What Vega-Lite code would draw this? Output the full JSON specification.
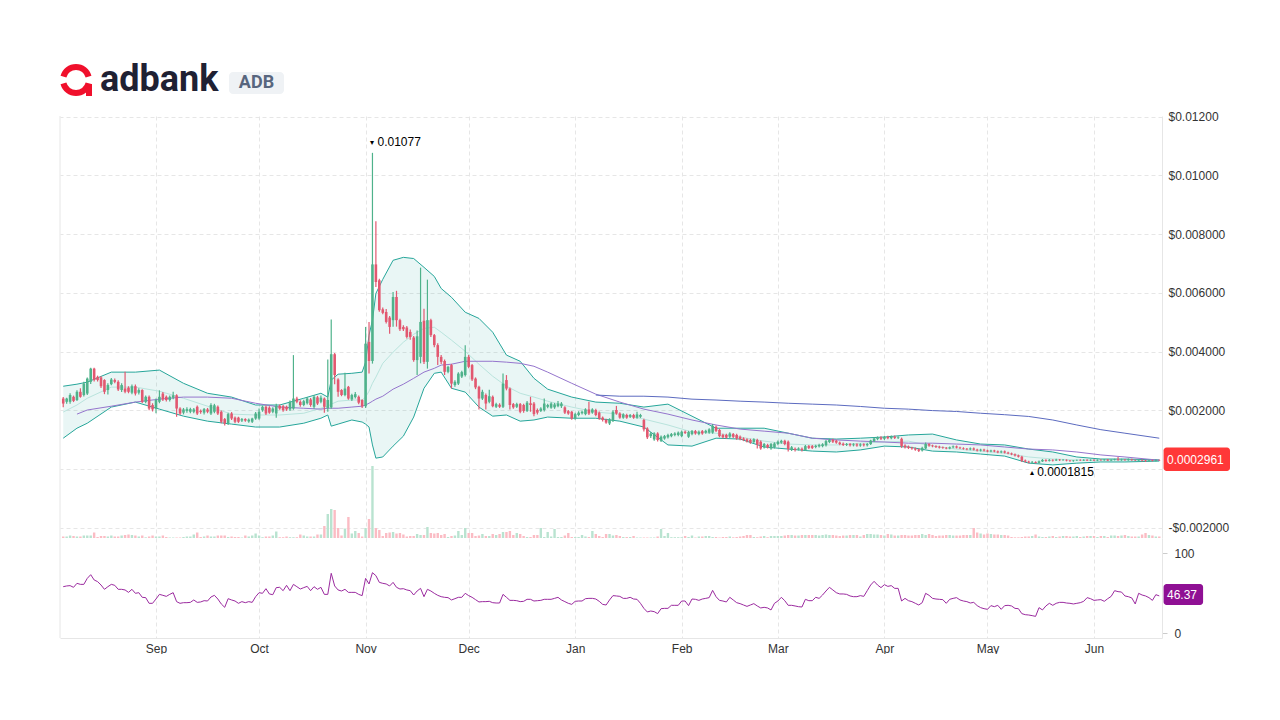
{"$schema":"https://vega.github.io/schema/vega-lite/v6.json","padding":{"left":59,"top":60,"right":0,"bottom":0},"background":"white","bounds":"flush","spacing":0,
"config":{"view":{"stroke":null},"font":"Liberation Sans","axis":{"title":null,"gridColor":"#e6e6e6","gridDash":[4,3],"labelFontSize":12,"labelColor":"#333333","labelFont":"Liberation Sans"}},
"datasets":{
"candles":[
{"t":"2018-08-05","o":0.0024,"c":0.00223,"h":0.00245,"l":0.0021,"v":1.5,"r":57.9},
{"t":"2018-08-06","o":0.00229,"c":0.0024,"h":0.00243,"l":0.00222,"v":1.5,"r":58.8},
{"t":"2018-08-07","o":0.00229,"c":0.00252,"h":0.00258,"l":0.00222,"v":2.5,"r":59.2},
{"t":"2018-08-08","o":0.00246,"c":0.00232,"h":0.0025,"l":0.00228,"v":2,"r":57.1},
{"t":"2018-08-09","o":0.00235,"c":0.00263,"h":0.00268,"l":0.00232,"v":1.5,"r":62.1},
{"t":"2018-08-10","o":0.00263,"c":0.00246,"h":0.00275,"l":0.00243,"v":1.5,"r":60.8},
{"t":"2018-08-11","o":0.00252,"c":0.00291,"h":0.00297,"l":0.00247,"v":2.5,"r":60.8},
{"t":"2018-08-12","o":0.00257,"c":0.00308,"h":0.00312,"l":0.00252,"v":2.5,"r":68.3},
{"t":"2018-08-13","o":0.00297,"c":0.00342,"h":0.00345,"l":0.0029,"v":2.5,"r":72.9},
{"t":"2018-08-14","o":0.00342,"c":0.00303,"h":0.00345,"l":0.00298,"v":5.5,"r":66.3},
{"t":"2018-08-15","o":0.00314,"c":0.00303,"h":0.00318,"l":0.00298,"v":1,"r":64.2},
{"t":"2018-08-16","o":0.00312,"c":0.00282,"h":0.00316,"l":0.00276,"v":2,"r":60},
{"t":"2018-08-17","o":0.00303,"c":0.00263,"h":0.00306,"l":0.00255,"v":2,"r":54.6},
{"t":"2018-08-18","o":0.00269,"c":0.00286,"h":0.00292,"l":0.00254,"v":1.5,"r":57.9},
{"t":"2018-08-19","o":0.00289,"c":0.00305,"h":0.0031,"l":0.00285,"v":2.5,"r":60.8},
{"t":"2018-08-20","o":0.00303,"c":0.00297,"h":0.00308,"l":0.00292,"v":1.5,"r":59.6},
{"t":"2018-08-21","o":0.00297,"c":0.00271,"h":0.00302,"l":0.00266,"v":1.5,"r":54.6},
{"t":"2018-08-22","o":0.00269,"c":0.00286,"h":0.00292,"l":0.00262,"v":2.5,"r":54.6},
{"t":"2018-08-23","o":0.00274,"c":0.00263,"h":0.00331,"l":0.00258,"v":3,"r":53.8},
{"t":"2018-08-24","o":0.00277,"c":0.00263,"h":0.00282,"l":0.00258,"v":3.5,"r":50.8},
{"t":"2018-08-25","o":0.0026,"c":0.00282,"h":0.00288,"l":0.00255,"v":3,"r":54.6},
{"t":"2018-08-26","o":0.00282,"c":0.00257,"h":0.00288,"l":0.0025,"v":2.5,"r":49.6},
{"t":"2018-08-27","o":0.0026,"c":0.00269,"h":0.00275,"l":0.00254,"v":1.5,"r":50.4},
{"t":"2018-08-28","o":0.00269,"c":0.00229,"h":0.00272,"l":0.00225,"v":2.5,"r":44.6},
{"t":"2018-08-29","o":0.00229,"c":0.00246,"h":0.0025,"l":0.00224,"v":0.7,"r":44.2},
{"t":"2018-08-30","o":0.00246,"c":0.00206,"h":0.0025,"l":0.002,"v":1.5,"r":37.1},
{"t":"2018-08-31","o":0.00218,"c":0.00203,"h":0.00224,"l":0.00196,"v":2.5,"r":37.1},
{"t":"2018-09-01","o":0.00206,"c":0.00235,"h":0.0024,"l":0.0019,"v":1.5,"r":42.5},
{"t":"2018-09-02","o":0.00229,"c":0.00246,"h":0.00268,"l":0.00224,"v":1.5,"r":48.3},
{"t":"2018-09-03","o":0.00257,"c":0.00237,"h":0.00262,"l":0.00232,"v":2.5,"r":47.1},
{"t":"2018-09-04","o":0.00246,"c":0.00235,"h":0.0025,"l":0.0023,"v":1,"r":45.8},
{"t":"2018-09-05","o":0.00235,"c":0.00246,"h":0.0025,"l":0.0023,"v":0.5,"r":48.3},
{"t":"2018-09-06","o":0.00243,"c":0.00251,"h":0.00263,"l":0.00238,"v":0.5,"r":50.4},
{"t":"2018-09-07","o":0.00251,"c":0.00206,"h":0.00255,"l":0.00178,"v":0.5,"r":39.2},
{"t":"2018-09-08","o":0.00206,"c":0.00189,"h":0.0021,"l":0.00184,"v":0.5,"r":37.1},
{"t":"2018-09-09","o":0.00192,"c":0.00203,"h":0.00208,"l":0.00186,"v":1,"r":37.9},
{"t":"2018-09-10","o":0.00198,"c":0.00204,"h":0.0021,"l":0.00192,"v":1.5,"r":37.9},
{"t":"2018-09-11","o":0.00195,"c":0.00204,"h":0.00209,"l":0.0019,"v":1.5,"r":38.3},
{"t":"2018-09-12","o":0.00195,"c":0.00203,"h":0.00208,"l":0.0019,"v":3.5,"r":41.3},
{"t":"2018-09-13","o":0.00212,"c":0.00189,"h":0.00216,"l":0.00184,"v":5.5,"r":38.3},
{"t":"2018-09-14","o":0.00198,"c":0.00194,"h":0.00203,"l":0.00188,"v":1,"r":38.8},
{"t":"2018-09-15","o":0.00192,"c":0.00204,"h":0.00208,"l":0.00186,"v":1.5,"r":40.4},
{"t":"2018-09-16","o":0.00203,"c":0.00195,"h":0.00208,"l":0.0019,"v":2.5,"r":40},
{"t":"2018-09-17","o":0.00189,"c":0.00218,"h":0.00224,"l":0.00184,"v":1.5,"r":45},
{"t":"2018-09-18","o":0.00195,"c":0.00217,"h":0.00222,"l":0.0019,"v":1.5,"r":47.1},
{"t":"2018-09-19","o":0.00212,"c":0.00189,"h":0.00216,"l":0.00184,"v":2.5,"r":42.5},
{"t":"2018-09-20","o":0.00195,"c":0.00161,"h":0.00199,"l":0.00156,"v":2.5,"r":36.3},
{"t":"2018-09-21","o":0.0017,"c":0.00155,"h":0.00174,"l":0.00148,"v":2.5,"r":32.1},
{"t":"2018-09-22","o":0.00155,"c":0.00187,"h":0.00192,"l":0.0015,"v":1,"r":42.9},
{"t":"2018-09-23","o":0.00189,"c":0.00172,"h":0.00194,"l":0.00167,"v":1.5,"r":41.3},
{"t":"2018-09-24","o":0.00175,"c":0.00161,"h":0.00179,"l":0.00156,"v":1,"r":40},
{"t":"2018-09-25","o":0.00175,"c":0.00161,"h":0.00178,"l":0.00157,"v":1,"r":37.1},
{"t":"2018-09-26","o":0.00165,"c":0.0017,"h":0.00174,"l":0.0016,"v":0.5,"r":39.2},
{"t":"2018-09-27","o":0.0017,"c":0.00165,"h":0.00173,"l":0.00161,"v":2.5,"r":37.9},
{"t":"2018-09-28","o":0.00162,"c":0.00168,"h":0.00172,"l":0.00158,"v":1.5,"r":39.2},
{"t":"2018-09-29","o":0.00161,"c":0.00172,"h":0.00175,"l":0.00157,"v":2.5,"r":38.3},
{"t":"2018-09-30","o":0.00172,"c":0.00189,"h":0.00194,"l":0.00168,"v":4.5,"r":45.4},
{"t":"2018-10-01","o":0.00172,"c":0.00195,"h":0.00206,"l":0.00168,"v":2.5,"r":50.4},
{"t":"2018-10-02","o":0.002,"c":0.00212,"h":0.00216,"l":0.00195,"v":0.8,"r":49.6},
{"t":"2018-10-03","o":0.00212,"c":0.00189,"h":0.00216,"l":0.00184,"v":1.5,"r":55.4},
{"t":"2018-10-04","o":0.00209,"c":0.00192,"h":0.00214,"l":0.00188,"v":1.5,"r":48.8},
{"t":"2018-10-05","o":0.00195,"c":0.00206,"h":0.0021,"l":0.0019,"v":2.5,"r":47.9},
{"t":"2018-10-06","o":0.00189,"c":0.00215,"h":0.00222,"l":0.00175,"v":6.5,"r":56.7},
{"t":"2018-10-07","o":0.00215,"c":0.00206,"h":0.0022,"l":0.00202,"v":0.8,"r":57.1},
{"t":"2018-10-08","o":0.00214,"c":0.002,"h":0.00218,"l":0.00195,"v":0.8,"r":52.9},
{"t":"2018-10-09","o":0.00212,"c":0.00203,"h":0.00216,"l":0.00198,"v":1.5,"r":59.6},
{"t":"2018-10-10","o":0.00203,"c":0.00229,"h":0.00233,"l":0.00198,"v":0.8,"r":52.9},
{"t":"2018-10-11","o":0.00206,"c":0.0024,"h":0.00388,"l":0.00202,"v":0.8,"r":60.8},
{"t":"2018-10-12","o":0.0024,"c":0.00229,"h":0.00246,"l":0.00224,"v":0.8,"r":57.9},
{"t":"2018-10-13","o":0.00229,"c":0.00218,"h":0.00234,"l":0.00212,"v":3.5,"r":55},
{"t":"2018-10-14","o":0.00218,"c":0.00231,"h":0.00236,"l":0.00214,"v":2.5,"r":56.7},
{"t":"2018-10-15","o":0.00224,"c":0.0024,"h":0.00245,"l":0.0022,"v":1.5,"r":58.3},
{"t":"2018-10-16","o":0.00237,"c":0.00218,"h":0.00242,"l":0.00212,"v":1.5,"r":52.9},
{"t":"2018-10-17","o":0.00212,"c":0.00246,"h":0.00252,"l":0.00205,"v":1.5,"r":57.9},
{"t":"2018-10-18","o":0.00244,"c":0.00223,"h":0.00249,"l":0.00218,"v":3.5,"r":54.6},
{"t":"2018-10-19","o":0.00229,"c":0.00243,"h":0.0025,"l":0.00224,"v":3.5,"r":57.1},
{"t":"2018-10-20","o":0.0024,"c":0.00212,"h":0.00244,"l":0.00192,"v":12,"r":48.3},
{"t":"2018-10-21","o":0.00207,"c":0.00235,"h":0.00373,"l":0.00195,"v":24,"r":48.3},
{"t":"2018-10-22","o":0.0021,"c":0.00391,"h":0.00509,"l":0.00205,"v":29,"r":74.6},
{"t":"2018-10-23","o":0.00391,"c":0.0032,"h":0.00395,"l":0.00289,"v":28,"r":58.8},
{"t":"2018-10-24","o":0.00305,"c":0.00263,"h":0.00309,"l":0.00246,"v":10,"r":53.8},
{"t":"2018-10-25","o":0.00269,"c":0.00252,"h":0.00272,"l":0.00248,"v":2.5,"r":52.5},
{"t":"2018-10-26","o":0.00252,"c":0.00274,"h":0.00328,"l":0.00248,"v":9.5,"r":54.6},
{"t":"2018-10-27","o":0.0028,"c":0.0024,"h":0.00283,"l":0.00236,"v":21,"r":50.8},
{"t":"2018-10-28","o":0.00237,"c":0.00252,"h":0.00256,"l":0.00232,"v":4.5,"r":50.8},
{"t":"2018-10-29","o":0.00245,"c":0.00255,"h":0.00262,"l":0.0024,"v":7,"r":50.8},
{"t":"2018-10-30","o":0.00246,"c":0.00226,"h":0.0025,"l":0.00221,"v":5,"r":48.3},
{"t":"2018-10-31","o":0.00235,"c":0.00214,"h":0.00238,"l":0.00208,"v":1.5,"r":46.7},
{"t":"2018-11-01","o":0.00214,"c":0.00427,"h":0.00484,"l":0.00208,"v":10,"r":68.3},
{"t":"2018-11-02","o":0.00433,"c":0.00368,"h":0.00501,"l":0.00325,"v":19,"r":61.3},
{"t":"2018-11-03","o":0.00368,"c":0.00697,"h":0.01077,"l":0.00359,"v":72,"r":75.4},
{"t":"2018-11-04","o":0.00697,"c":0.00637,"h":0.00844,"l":0.0062,"v":10,"r":71.7},
{"t":"2018-11-05","o":0.00643,"c":0.00541,"h":0.00648,"l":0.00536,"v":8,"r":63.3},
{"t":"2018-11-06","o":0.00544,"c":0.00532,"h":0.0055,"l":0.00527,"v":2,"r":62.1},
{"t":"2018-11-07","o":0.00535,"c":0.00501,"h":0.00545,"l":0.00496,"v":5,"r":61.3},
{"t":"2018-11-08","o":0.00516,"c":0.00484,"h":0.00521,"l":0.00461,"v":5.5,"r":58.8},
{"t":"2018-11-09","o":0.00507,"c":0.00586,"h":0.00603,"l":0.00485,"v":6,"r":63.3},
{"t":"2018-11-10","o":0.00586,"c":0.00507,"h":0.00607,"l":0.00485,"v":4.5,"r":57.1},
{"t":"2018-11-11","o":0.00507,"c":0.00476,"h":0.00512,"l":0.0047,"v":5,"r":55},
{"t":"2018-11-12","o":0.00484,"c":0.00476,"h":0.0049,"l":0.0047,"v":3.5,"r":55.4},
{"t":"2018-11-13","o":0.00482,"c":0.0045,"h":0.00487,"l":0.00445,"v":1.5,"r":53.8},
{"t":"2018-11-14","o":0.00467,"c":0.0045,"h":0.00475,"l":0.0044,"v":2,"r":52.9},
{"t":"2018-11-15","o":0.00448,"c":0.00371,"h":0.00453,"l":0.00365,"v":2,"r":47.5},
{"t":"2018-11-16","o":0.00371,"c":0.00452,"h":0.00472,"l":0.0032,"v":4,"r":52.5},
{"t":"2018-11-17","o":0.00382,"c":0.00501,"h":0.00686,"l":0.0036,"v":3,"r":55.8},
{"t":"2018-11-18","o":0.00505,"c":0.00365,"h":0.00546,"l":0.00358,"v":3,"r":45.4},
{"t":"2018-11-19","o":0.00365,"c":0.00507,"h":0.00645,"l":0.00342,"v":11,"r":54.6},
{"t":"2018-11-20","o":0.00507,"c":0.00456,"h":0.00512,"l":0.0045,"v":5,"r":52.5},
{"t":"2018-11-21","o":0.00456,"c":0.00422,"h":0.0046,"l":0.00415,"v":4.5,"r":49.6},
{"t":"2018-11-22","o":0.00422,"c":0.00382,"h":0.00428,"l":0.00354,"v":5,"r":47.1},
{"t":"2018-11-23","o":0.00382,"c":0.00365,"h":0.00388,"l":0.00358,"v":3,"r":45.4},
{"t":"2018-11-24","o":0.00368,"c":0.00331,"h":0.00373,"l":0.0032,"v":4,"r":44.6},
{"t":"2018-11-25","o":0.00331,"c":0.00348,"h":0.00352,"l":0.00326,"v":1,"r":44.2},
{"t":"2018-11-26","o":0.00354,"c":0.00291,"h":0.00358,"l":0.00274,"v":2,"r":41.3},
{"t":"2018-11-27","o":0.00286,"c":0.00297,"h":0.00302,"l":0.0028,"v":2.5,"r":42.9},
{"t":"2018-11-28","o":0.00291,"c":0.00325,"h":0.0033,"l":0.00286,"v":7,"r":44.6},
{"t":"2018-11-29","o":0.00315,"c":0.0033,"h":0.00335,"l":0.0031,"v":3,"r":44.6},
{"t":"2018-11-30","o":0.0032,"c":0.00382,"h":0.00422,"l":0.00315,"v":10,"r":49.6},
{"t":"2018-12-01","o":0.00382,"c":0.00348,"h":0.00388,"l":0.00343,"v":5,"r":46.7},
{"t":"2018-12-02","o":0.00354,"c":0.00305,"h":0.00358,"l":0.003,"v":5,"r":44.6},
{"t":"2018-12-03","o":0.00308,"c":0.00278,"h":0.00312,"l":0.00272,"v":2,"r":41.7},
{"t":"2018-12-04","o":0.0028,"c":0.0024,"h":0.00284,"l":0.00203,"v":2.5,"r":38.8},
{"t":"2018-12-05","o":0.0024,"c":0.00263,"h":0.0027,"l":0.00235,"v":4,"r":39.2},
{"t":"2018-12-06","o":0.00252,"c":0.00223,"h":0.00257,"l":0.00203,"v":2,"r":39.2},
{"t":"2018-12-07","o":0.00229,"c":0.00248,"h":0.0027,"l":0.00224,"v":2,"r":39.6},
{"t":"2018-12-08","o":0.00246,"c":0.00214,"h":0.0025,"l":0.0021,"v":4,"r":37.9},
{"t":"2018-12-09","o":0.00212,"c":0.00221,"h":0.00226,"l":0.00208,"v":3,"r":37.5},
{"t":"2018-12-10","o":0.00219,"c":0.00212,"h":0.00224,"l":0.00208,"v":4,"r":37.5},
{"t":"2018-12-11","o":0.00212,"c":0.00291,"h":0.00325,"l":0.00208,"v":6,"r":48.3},
{"t":"2018-12-12","o":0.00303,"c":0.00274,"h":0.0032,"l":0.00268,"v":6,"r":44.6},
{"t":"2018-12-13","o":0.00274,"c":0.00218,"h":0.00278,"l":0.00203,"v":7,"r":40.8},
{"t":"2018-12-14","o":0.00221,"c":0.0021,"h":0.00225,"l":0.00205,"v":3,"r":40.8},
{"t":"2018-12-15","o":0.00212,"c":0.00221,"h":0.00226,"l":0.00208,"v":5,"r":40.4},
{"t":"2018-12-16","o":0.00221,"c":0.00195,"h":0.00225,"l":0.0019,"v":4,"r":39.2},
{"t":"2018-12-17","o":0.00218,"c":0.00198,"h":0.00222,"l":0.00192,"v":2,"r":39.6},
{"t":"2018-12-18","o":0.00198,"c":0.00226,"h":0.00232,"l":0.00194,"v":1,"r":42.1},
{"t":"2018-12-19","o":0.00224,"c":0.00218,"h":0.00246,"l":0.00195,"v":1,"r":42.1},
{"t":"2018-12-20","o":0.00223,"c":0.00187,"h":0.00228,"l":0.0018,"v":3,"r":40},
{"t":"2018-12-21","o":0.00201,"c":0.00192,"h":0.00206,"l":0.00186,"v":3,"r":40.4},
{"t":"2018-12-22","o":0.00198,"c":0.00206,"h":0.0021,"l":0.00194,"v":10,"r":40.8},
{"t":"2018-12-23","o":0.00201,"c":0.00223,"h":0.0024,"l":0.00196,"v":1,"r":42.1},
{"t":"2018-12-24","o":0.00212,"c":0.00218,"h":0.00222,"l":0.00207,"v":6,"r":42.1},
{"t":"2018-12-25","o":0.00209,"c":0.00223,"h":0.00227,"l":0.00205,"v":1.5,"r":42.1},
{"t":"2018-12-26","o":0.0021,"c":0.0022,"h":0.00225,"l":0.00205,"v":9,"r":43.3},
{"t":"2018-12-27","o":0.00214,"c":0.00223,"h":0.00232,"l":0.0021,"v":1,"r":44.6},
{"t":"2018-12-28","o":0.00214,"c":0.00223,"h":0.00228,"l":0.00208,"v":1,"r":41.3},
{"t":"2018-12-29","o":0.0021,"c":0.00192,"h":0.00214,"l":0.00187,"v":2.5,"r":39.2},
{"t":"2018-12-30","o":0.00197,"c":0.00189,"h":0.00201,"l":0.00185,"v":5,"r":37.1},
{"t":"2018-12-31","o":0.00195,"c":0.00172,"h":0.00198,"l":0.00168,"v":1,"r":35.8},
{"t":"2019-01-01","o":0.00172,"c":0.00187,"h":0.00192,"l":0.00168,"v":1,"r":39.6},
{"t":"2019-01-02","o":0.00184,"c":0.00192,"h":0.00197,"l":0.0018,"v":1,"r":40},
{"t":"2019-01-03","o":0.0019,"c":0.00195,"h":0.00199,"l":0.00186,"v":3,"r":40},
{"t":"2019-01-04","o":0.00187,"c":0.00203,"h":0.00207,"l":0.00183,"v":1.5,"r":42.9},
{"t":"2019-01-05","o":0.00203,"c":0.00189,"h":0.00229,"l":0.00184,"v":1,"r":43.3},
{"t":"2019-01-06","o":0.00192,"c":0.00203,"h":0.00207,"l":0.00188,"v":7,"r":43.3},
{"t":"2019-01-07","o":0.00201,"c":0.00184,"h":0.00205,"l":0.0018,"v":4,"r":42.5},
{"t":"2019-01-08","o":0.00192,"c":0.00172,"h":0.00196,"l":0.00168,"v":2,"r":39.6},
{"t":"2019-01-09","o":0.00175,"c":0.00167,"h":0.00179,"l":0.00162,"v":1,"r":35.8},
{"t":"2019-01-10","o":0.00167,"c":0.00158,"h":0.00171,"l":0.00154,"v":4,"r":35},
{"t":"2019-01-11","o":0.00155,"c":0.00169,"h":0.00173,"l":0.0015,"v":4,"r":41.3},
{"t":"2019-01-12","o":0.00164,"c":0.00195,"h":0.002,"l":0.0016,"v":2.5,"r":46.7},
{"t":"2019-01-13","o":0.00201,"c":0.00189,"h":0.00215,"l":0.00185,"v":3,"r":46.3},
{"t":"2019-01-14","o":0.00189,"c":0.00175,"h":0.00193,"l":0.00171,"v":2,"r":45.8},
{"t":"2019-01-15","o":0.00175,"c":0.00186,"h":0.0019,"l":0.00171,"v":1,"r":43.3},
{"t":"2019-01-16","o":0.00184,"c":0.00175,"h":0.00188,"l":0.00171,"v":1,"r":43.3},
{"t":"2019-01-17","o":0.00178,"c":0.00184,"h":0.00187,"l":0.00174,"v":1,"r":44.6},
{"t":"2019-01-18","o":0.00184,"c":0.00175,"h":0.00188,"l":0.00171,"v":2,"r":42.5},
{"t":"2019-01-19","o":0.00175,"c":0.00186,"h":0.00195,"l":0.00171,"v":0.5,"r":42.1},
{"t":"2019-01-20","o":0.00178,"c":0.00184,"h":0.00188,"l":0.00174,"v":0.5,"r":37.1},
{"t":"2019-01-21","o":0.00167,"c":0.00135,"h":0.00171,"l":0.00128,"v":0.5,"r":30.8},
{"t":"2019-01-22","o":0.00138,"c":0.00108,"h":0.00142,"l":0.00102,"v":0.5,"r":26.3},
{"t":"2019-01-23","o":0.00112,"c":0.00121,"h":0.00126,"l":0.00106,"v":0.5,"r":27.5},
{"t":"2019-01-24","o":0.00101,"c":0.00121,"h":0.00125,"l":0.00096,"v":0.5,"r":26.7},
{"t":"2019-01-25","o":0.00121,"c":0.00099,"h":0.00125,"l":0.00094,"v":1.5,"r":24.2},
{"t":"2019-01-26","o":0.00096,"c":0.0011,"h":0.00114,"l":0.00092,"v":9,"r":30.4},
{"t":"2019-01-27","o":0.00104,"c":0.00112,"h":0.00116,"l":0.001,"v":2,"r":30.8},
{"t":"2019-01-28","o":0.00108,"c":0.00116,"h":0.0012,"l":0.00104,"v":5,"r":30.8},
{"t":"2019-01-29","o":0.00112,"c":0.00119,"h":0.00123,"l":0.00108,"v":0.8,"r":34.6},
{"t":"2019-01-30","o":0.00116,"c":0.00121,"h":0.00125,"l":0.00112,"v":0.8,"r":34.6},
{"t":"2019-01-31","o":0.00116,"c":0.00124,"h":0.00128,"l":0.00112,"v":0.8,"r":34.6},
{"t":"2019-02-01","o":0.00112,"c":0.00127,"h":0.00131,"l":0.00108,"v":0.8,"r":40},
{"t":"2019-02-02","o":0.00127,"c":0.00123,"h":0.00131,"l":0.00119,"v":2,"r":40},
{"t":"2019-02-03","o":0.0011,"c":0.00126,"h":0.0013,"l":0.00106,"v":1,"r":34.2},
{"t":"2019-02-04","o":0.00119,"c":0.00129,"h":0.00133,"l":0.00115,"v":2.5,"r":42.5},
{"t":"2019-02-05","o":0.00129,"c":0.00121,"h":0.00133,"l":0.00117,"v":0.5,"r":42.1},
{"t":"2019-02-06","o":0.00119,"c":0.00127,"h":0.00131,"l":0.00115,"v":1.5,"r":40.8},
{"t":"2019-02-07","o":0.00129,"c":0.00121,"h":0.00133,"l":0.00117,"v":1.5,"r":42.5},
{"t":"2019-02-08","o":0.00124,"c":0.0013,"h":0.00134,"l":0.0012,"v":2,"r":43.3},
{"t":"2019-02-09","o":0.00124,"c":0.00135,"h":0.00139,"l":0.0012,"v":2,"r":44.2},
{"t":"2019-02-10","o":0.00124,"c":0.00147,"h":0.00153,"l":0.0012,"v":1,"r":53.3},
{"t":"2019-02-11","o":0.00144,"c":0.0013,"h":0.00148,"l":0.00126,"v":1,"r":45.4},
{"t":"2019-02-12","o":0.00133,"c":0.00112,"h":0.00137,"l":0.00108,"v":0.5,"r":40.8},
{"t":"2019-02-13","o":0.00116,"c":0.00108,"h":0.0012,"l":0.00104,"v":1,"r":40},
{"t":"2019-02-14","o":0.00116,"c":0.00107,"h":0.0012,"l":0.00103,"v":1,"r":38.8},
{"t":"2019-02-15","o":0.0011,"c":0.00121,"h":0.00125,"l":0.00106,"v":1.5,"r":44.6},
{"t":"2019-02-16","o":0.00119,"c":0.0011,"h":0.00123,"l":0.00106,"v":0.7,"r":41.3},
{"t":"2019-02-17","o":0.00116,"c":0.00104,"h":0.0012,"l":0.001,"v":1,"r":37.9},
{"t":"2019-02-18","o":0.0011,"c":0.00102,"h":0.00114,"l":0.00098,"v":1.5,"r":36.7},
{"t":"2019-02-19","o":0.00104,"c":0.00099,"h":0.00108,"l":0.00095,"v":2,"r":35},
{"t":"2019-02-20","o":0.00101,"c":0.00094,"h":0.00105,"l":0.0009,"v":3,"r":33.3},
{"t":"2019-02-21","o":0.00099,"c":0.0009,"h":0.00103,"l":0.00086,"v":3,"r":35},
{"t":"2019-02-22","o":0.00092,"c":0.00101,"h":0.00105,"l":0.00088,"v":1,"r":36.7},
{"t":"2019-02-23","o":0.00099,"c":0.00083,"h":0.00103,"l":0.0007,"v":0.8,"r":33.8},
{"t":"2019-02-24","o":0.00093,"c":0.0007,"h":0.00097,"l":0.00066,"v":1.5,"r":31.3},
{"t":"2019-02-25","o":0.00074,"c":0.00085,"h":0.00089,"l":0.0007,"v":2,"r":32.1},
{"t":"2019-02-26","o":0.00082,"c":0.00074,"h":0.00086,"l":0.0007,"v":0.8,"r":31.3},
{"t":"2019-02-27","o":0.0007,"c":0.00085,"h":0.00089,"l":0.00066,"v":2,"r":28.8},
{"t":"2019-02-28","o":0.00074,"c":0.00087,"h":0.00091,"l":0.0007,"v":2,"r":37.1},
{"t":"2019-03-01","o":0.00085,"c":0.00093,"h":0.00097,"l":0.00081,"v":2,"r":40},
{"t":"2019-03-02","o":0.0009,"c":0.00096,"h":0.001,"l":0.00086,"v":2,"r":44.6},
{"t":"2019-03-03","o":0.00096,"c":0.00085,"h":0.001,"l":0.00081,"v":2.5,"r":40.4},
{"t":"2019-03-04","o":0.00093,"c":0.00068,"h":0.00097,"l":0.0006,"v":3,"r":34.6},
{"t":"2019-03-05","o":0.00065,"c":0.00074,"h":0.00078,"l":0.00061,"v":3,"r":34.6},
{"t":"2019-03-06","o":0.00069,"c":0.00065,"h":0.00073,"l":0.0006,"v":2.5,"r":33.8},
{"t":"2019-03-07","o":0.00067,"c":0.0007,"h":0.00074,"l":0.00063,"v":2.5,"r":32.9},
{"t":"2019-03-08","o":0.00069,"c":0.00065,"h":0.00073,"l":0.0006,"v":3,"r":32.5},
{"t":"2019-03-09","o":0.00065,"c":0.00078,"h":0.00082,"l":0.00061,"v":3,"r":42.1},
{"t":"2019-03-10","o":0.00078,"c":0.00072,"h":0.00082,"l":0.00068,"v":3,"r":40.4},
{"t":"2019-03-11","o":0.00078,"c":0.00072,"h":0.00082,"l":0.00068,"v":3,"r":40.4},
{"t":"2019-03-12","o":0.00075,"c":0.00079,"h":0.00083,"l":0.00071,"v":3,"r":44.6},
{"t":"2019-03-13","o":0.00077,"c":0.00082,"h":0.00086,"l":0.00073,"v":2.5,"r":43.3},
{"t":"2019-03-14","o":0.00078,"c":0.00084,"h":0.00088,"l":0.00074,"v":3,"r":47.5},
{"t":"2019-03-15","o":0.00081,"c":0.00095,"h":0.00099,"l":0.00077,"v":3.5,"r":52.5},
{"t":"2019-03-16","o":0.00092,"c":0.00099,"h":0.00103,"l":0.00088,"v":3,"r":57.1},
{"t":"2019-03-17","o":0.00099,"c":0.00093,"h":0.00103,"l":0.00089,"v":3,"r":53.8},
{"t":"2019-03-18","o":0.00096,"c":0.0009,"h":0.001,"l":0.00086,"v":2.5,"r":50.4},
{"t":"2019-03-19","o":0.0009,"c":0.00085,"h":0.00094,"l":0.00081,"v":2,"r":48.8},
{"t":"2019-03-20","o":0.00086,"c":0.00082,"h":0.0009,"l":0.00078,"v":2.5,"r":48.8},
{"t":"2019-03-21","o":0.00082,"c":0.00085,"h":0.00089,"l":0.00078,"v":2.5,"r":48.3},
{"t":"2019-03-22","o":0.00085,"c":0.00081,"h":0.00089,"l":0.00077,"v":3,"r":46.3},
{"t":"2019-03-23","o":0.00081,"c":0.00084,"h":0.00088,"l":0.00077,"v":3,"r":45.4},
{"t":"2019-03-24","o":0.00084,"c":0.0008,"h":0.00088,"l":0.00076,"v":3,"r":45.4},
{"t":"2019-03-25","o":0.0008,"c":0.00084,"h":0.00088,"l":0.00076,"v":1.5,"r":46.7},
{"t":"2019-03-26","o":0.00084,"c":0.00081,"h":0.00088,"l":0.00077,"v":3,"r":45.8},
{"t":"2019-03-27","o":0.00081,"c":0.00085,"h":0.00089,"l":0.00077,"v":4,"r":52.9},
{"t":"2019-03-28","o":0.00085,"c":0.00097,"h":0.001,"l":0.00082,"v":4,"r":60},
{"t":"2019-03-29","o":0.00095,"c":0.00104,"h":0.00108,"l":0.00092,"v":3.5,"r":64.6},
{"t":"2019-03-30","o":0.00102,"c":0.00107,"h":0.00111,"l":0.00098,"v":3.5,"r":60},
{"t":"2019-03-31","o":0.00107,"c":0.00103,"h":0.00112,"l":0.00099,"v":3,"r":56.7},
{"t":"2019-04-01","o":0.00103,"c":0.00109,"h":0.00113,"l":0.00099,"v":2.5,"r":60.4},
{"t":"2019-04-02","o":0.00109,"c":0.00105,"h":0.00113,"l":0.00101,"v":4,"r":58.3},
{"t":"2019-04-03","o":0.00105,"c":0.0011,"h":0.00114,"l":0.00101,"v":3.5,"r":59.2},
{"t":"2019-04-04","o":0.0011,"c":0.00106,"h":0.00114,"l":0.00102,"v":2.5,"r":55.8},
{"t":"2019-04-05","o":0.00106,"c":0.00108,"h":0.00112,"l":0.00102,"v":2.5,"r":55.8},
{"t":"2019-04-06","o":0.00103,"c":0.00078,"h":0.00107,"l":0.00072,"v":3,"r":40},
{"t":"2019-04-07","o":0.0008,"c":0.00074,"h":0.00084,"l":0.0007,"v":3,"r":43.3},
{"t":"2019-04-08","o":0.00076,"c":0.00072,"h":0.0008,"l":0.00068,"v":2.5,"r":40.4},
{"t":"2019-04-09","o":0.00073,"c":0.0007,"h":0.00076,"l":0.00066,"v":2.5,"r":39.2},
{"t":"2019-04-10","o":0.0007,"c":0.00066,"h":0.00073,"l":0.00062,"v":3,"r":37.1},
{"t":"2019-04-11","o":0.00067,"c":0.00062,"h":0.0007,"l":0.00058,"v":3,"r":35},
{"t":"2019-04-12","o":0.00063,"c":0.00072,"h":0.00076,"l":0.0006,"v":4,"r":37.9},
{"t":"2019-04-13","o":0.0007,"c":0.00085,"h":0.0009,"l":0.00068,"v":3,"r":49.6},
{"t":"2019-04-14","o":0.00085,"c":0.0008,"h":0.00088,"l":0.00076,"v":4,"r":47.1},
{"t":"2019-04-15","o":0.0008,"c":0.00078,"h":0.00083,"l":0.00074,"v":3,"r":43.3},
{"t":"2019-04-16","o":0.00078,"c":0.00075,"h":0.00081,"l":0.00072,"v":2,"r":42.5},
{"t":"2019-04-17","o":0.00076,"c":0.00073,"h":0.00079,"l":0.0007,"v":2.5,"r":42.1},
{"t":"2019-04-18","o":0.00074,"c":0.00072,"h":0.00077,"l":0.00069,"v":2.5,"r":41.7},
{"t":"2019-04-19","o":0.00072,"c":0.0007,"h":0.00075,"l":0.00067,"v":3,"r":37.1},
{"t":"2019-04-20","o":0.0007,"c":0.00074,"h":0.00077,"l":0.00067,"v":3,"r":42.1},
{"t":"2019-04-21","o":0.00074,"c":0.00077,"h":0.0008,"l":0.00071,"v":2.5,"r":43.3},
{"t":"2019-04-22","o":0.00077,"c":0.00073,"h":0.0008,"l":0.0007,"v":2.5,"r":44.2},
{"t":"2019-04-23","o":0.00073,"c":0.00071,"h":0.00076,"l":0.00068,"v":2.5,"r":41.3},
{"t":"2019-04-24","o":0.00071,"c":0.00069,"h":0.00074,"l":0.00066,"v":3,"r":40},
{"t":"2019-04-25","o":0.00069,"c":0.00067,"h":0.00072,"l":0.00064,"v":3,"r":39.2},
{"t":"2019-04-26","o":0.00067,"c":0.0007,"h":0.00073,"l":0.00064,"v":3,"r":37.5},
{"t":"2019-04-27","o":0.0007,"c":0.00066,"h":0.00073,"l":0.00063,"v":10,"r":38.3},
{"t":"2019-04-28","o":0.00066,"c":0.00063,"h":0.00069,"l":0.0006,"v":5.5,"r":34.2},
{"t":"2019-04-29","o":0.00063,"c":0.00066,"h":0.00069,"l":0.0006,"v":4.5,"r":31.7},
{"t":"2019-04-30","o":0.00066,"c":0.00063,"h":0.00069,"l":0.0006,"v":3.5,"r":30.4},
{"t":"2019-05-01","o":0.00063,"c":0.0006,"h":0.00066,"l":0.00057,"v":4.5,"r":29.6},
{"t":"2019-05-02","o":0.0006,"c":0.00063,"h":0.00066,"l":0.00057,"v":4,"r":34.2},
{"t":"2019-05-03","o":0.00063,"c":0.0006,"h":0.00066,"l":0.00057,"v":3.5,"r":32.9},
{"t":"2019-05-04","o":0.0006,"c":0.00057,"h":0.00063,"l":0.00054,"v":3.5,"r":34.6},
{"t":"2019-05-05","o":0.00057,"c":0.0006,"h":0.00063,"l":0.00054,"v":3,"r":29.6},
{"t":"2019-05-06","o":0.0006,"c":0.00056,"h":0.00063,"l":0.00053,"v":3,"r":34.2},
{"t":"2019-05-07","o":0.00056,"c":0.00053,"h":0.00059,"l":0.0005,"v":2.5,"r":34.6},
{"t":"2019-05-08","o":0.00053,"c":0.0005,"h":0.00056,"l":0.00047,"v":1,"r":33.8},
{"t":"2019-05-09","o":0.0005,"c":0.00046,"h":0.00053,"l":0.00043,"v":0.7,"r":30.8},
{"t":"2019-05-10","o":0.00046,"c":0.00042,"h":0.00049,"l":0.00039,"v":0.7,"r":30.4},
{"t":"2019-05-11","o":0.00042,"c":0.00028,"h":0.00045,"l":0.00024,"v":1,"r":24.2},
{"t":"2019-05-12","o":0.00029,"c":0.00025,"h":0.00032,"l":0.00022,"v":1.5,"r":22.9},
{"t":"2019-05-13","o":0.00025,"c":0.00022,"h":0.00028,"l":0.0002,"v":1.5,"r":22.5},
{"t":"2019-05-14","o":0.00022,"c":0.00024,"h":0.00027,"l":0.0001815,"v":2,"r":21.7},
{"t":"2019-05-15","o":0.00024,"c":0.00021,"h":0.00026,"l":0.00019,"v":3.5,"r":20.8},
{"t":"2019-05-16","o":0.00021,"c":0.00026,"h":0.00029,"l":0.00019,"v":1.5,"r":31.7},
{"t":"2019-05-17","o":0.00026,"c":0.00031,"h":0.00034,"l":0.00024,"v":1,"r":28.8},
{"t":"2019-05-18","o":0.00031,"c":0.00028,"h":0.00033,"l":0.00025,"v":1,"r":33.8},
{"t":"2019-05-19","o":0.00028,"c":0.00031,"h":0.00034,"l":0.00026,"v":1.5,"r":37.1},
{"t":"2019-05-20","o":0.00031,"c":0.00029,"h":0.00033,"l":0.00026,"v":2,"r":34.6},
{"t":"2019-05-21","o":0.00029,"c":0.00032,"h":0.00035,"l":0.00027,"v":1,"r":37.1},
{"t":"2019-05-22","o":0.00032,"c":0.0003,"h":0.00034,"l":0.00027,"v":1.5,"r":38.3},
{"t":"2019-05-23","o":0.0003,"c":0.00031,"h":0.00034,"l":0.00028,"v":2,"r":38.3},
{"t":"2019-05-24","o":0.00031,"c":0.00029,"h":0.00033,"l":0.00026,"v":2,"r":37.5},
{"t":"2019-05-25","o":0.00029,"c":0.00027,"h":0.00031,"l":0.00025,"v":1.5,"r":37.1},
{"t":"2019-05-26","o":0.00027,"c":0.00029,"h":0.00031,"l":0.00025,"v":1.5,"r":36.3},
{"t":"2019-05-27","o":0.00029,"c":0.0003,"h":0.00032,"l":0.00027,"v":2,"r":37.1},
{"t":"2019-05-28","o":0.0003,"c":0.00029,"h":0.00033,"l":0.00027,"v":1,"r":37.9},
{"t":"2019-05-29","o":0.00029,"c":0.00031,"h":0.00033,"l":0.00027,"v":1.5,"r":39.6},
{"t":"2019-05-30","o":0.00031,"c":0.00029,"h":0.00033,"l":0.00027,"v":2,"r":44.2},
{"t":"2019-05-31","o":0.00029,"c":0.00031,"h":0.00033,"l":0.00027,"v":2,"r":42.9},
{"t":"2019-06-01","o":0.00031,"c":0.00029,"h":0.00033,"l":0.00027,"v":2,"r":40.8},
{"t":"2019-06-02","o":0.00029,"c":0.00031,"h":0.00033,"l":0.00027,"v":1,"r":41.3},
{"t":"2019-06-03","o":0.00031,"c":0.0003,"h":0.00033,"l":0.00028,"v":2,"r":41.7},
{"t":"2019-06-04","o":0.0003,"c":0.00032,"h":0.00034,"l":0.00028,"v":2,"r":39.6},
{"t":"2019-06-05","o":0.00032,"c":0.00029,"h":0.00034,"l":0.00027,"v":1,"r":42.9},
{"t":"2019-06-06","o":0.00029,"c":0.00031,"h":0.00033,"l":0.00027,"v":2.5,"r":45.8},
{"t":"2019-06-07","o":0.00031,"c":0.00033,"h":0.00035,"l":0.00029,"v":2.5,"r":52.9},
{"t":"2019-06-08","o":0.00033,"c":0.0003,"h":0.00041,"l":0.00028,"v":2,"r":51.7},
{"t":"2019-06-09","o":0.0003,"c":0.00032,"h":0.00035,"l":0.00028,"v":2.5,"r":51.2},
{"t":"2019-06-10","o":0.00032,"c":0.0003,"h":0.00034,"l":0.00028,"v":3,"r":46.3},
{"t":"2019-06-11","o":0.0003,"c":0.00033,"h":0.00036,"l":0.00028,"v":2,"r":45.4},
{"t":"2019-06-12","o":0.00033,"c":0.0003,"h":0.00035,"l":0.00028,"v":1.5,"r":43.8},
{"t":"2019-06-13","o":0.0003,"c":0.00029,"h":0.00032,"l":0.00027,"v":1.5,"r":36.3},
{"t":"2019-06-14","o":0.00029,"c":0.00031,"h":0.00033,"l":0.00027,"v":1.5,"r":49.6},
{"t":"2019-06-15","o":0.00031,"c":0.00029,"h":0.00033,"l":0.00026,"v":3.5,"r":47.5},
{"t":"2019-06-16","o":0.00029,"c":0.00027,"h":0.00031,"l":0.00024,"v":5,"r":46.3},
{"t":"2019-06-17","o":0.00027,"c":0.0003,"h":0.00032,"l":0.00025,"v":3,"r":44.2},
{"t":"2019-06-18","o":0.0003,"c":0.00028,"h":0.00032,"l":0.00026,"v":2.5,"r":40.8},
{"t":"2019-06-19","o":0.00028,"c":0.00031,"h":0.00033,"l":0.00026,"v":1.5,"r":47.9},
{"t":"2019-06-20","o":0.000305,"c":0.0002961,"h":0.00032,"l":0.00028,"v":1.5,"r":46.37}
],
"bands":[
{"t":"2018-08-05","upper":0.00282,"lower":0.00105,"mid":0.00194},
{"t":"2018-08-09","upper":0.00289,"lower":0.00139,"mid":0.00218,"ma1":0.00187},
{"t":"2018-08-12","upper":0.00296,"lower":0.00156,"mid":0.00241,"ma1":0.00201},
{"t":"2018-08-19","upper":0.0033,"lower":0.00211,"mid":0.00279,"ma1":0.00214},
{"t":"2018-08-26","upper":0.0033,"lower":0.00228,"mid":0.00279,"ma1":0.00228},
{"t":"2018-09-02","upper":0.00337,"lower":0.00204,"mid":0.00265,"ma1":0.00238},
{"t":"2018-09-09","upper":0.00292,"lower":0.0018,"mid":0.00241,"ma1":0.00245},
{"t":"2018-09-16","upper":0.00258,"lower":0.00163,"mid":0.00214,"ma1":0.00245},
{"t":"2018-09-23","upper":0.00245,"lower":0.00153,"mid":0.00187,"ma1":0.00241},
{"t":"2018-09-30","upper":0.00218,"lower":0.00143,"mid":0.00184,"ma1":0.00224},
{"t":"2018-10-07","upper":0.00218,"lower":0.00143,"mid":0.00184,"ma1":0.00211},
{"t":"2018-10-14","upper":0.00241,"lower":0.00156,"mid":0.0019,"ma1":0.00207},
{"t":"2018-10-19","upper":0.00258,"lower":0.00173,"mid":0.00207,"ma1":0.00204},
{"t":"2018-10-21","upper":0.00245,"lower":0.00184,"mid":0.00214,"ma1":0.00207},
{"t":"2018-10-22","upper":0.00303,"lower":0.00146,"mid":0.00221,"ma1":0.00207},
{"t":"2018-10-24","upper":0.00323,"lower":0.00153,"mid":0.00231,"ma1":0.00207},
{"t":"2018-10-28","upper":0.00326,"lower":0.00167,"mid":0.00235,"ma1":0.00211},
{"t":"2018-10-31","upper":0.0033,"lower":0.0016,"mid":0.00235,"ma1":0.00214},
{"t":"2018-11-01","upper":0.00364,"lower":0.00153,"mid":0.00245,"ma1":0.00218},
{"t":"2018-11-02","upper":0.00456,"lower":0.00143,"mid":0.00265,"ma1":0.00224},
{"t":"2018-11-03","upper":0.00507,"lower":0.00082,"mid":0.00292,"ma1":0.00231},
{"t":"2018-11-04","upper":0.00598,"lower":0.00037,"mid":0.00313,"ma1":0.00238},
{"t":"2018-11-06","upper":0.00646,"lower":0.00041,"mid":0.0036,"ma1":0.00248},
{"t":"2018-11-09","upper":0.00711,"lower":0.00078,"mid":0.00398,"ma1":0.00272},
{"t":"2018-11-12","upper":0.00721,"lower":0.00112,"mid":0.00432,"ma1":0.00289},
{"t":"2018-11-15","upper":0.00717,"lower":0.00177,"mid":0.00459,"ma1":0.00309},
{"t":"2018-11-18","upper":0.00687,"lower":0.00275,"mid":0.00479,"ma1":0.0033},
{"t":"2018-11-21","upper":0.00656,"lower":0.00326,"mid":0.00483,"ma1":0.00343},
{"t":"2018-11-23","upper":0.00615,"lower":0.0033,"mid":0.00466,"ma1":0.00354},
{"t":"2018-11-26","upper":0.00585,"lower":0.00275,"mid":0.00439,"ma1":0.00357},
{"t":"2018-11-30","upper":0.00534,"lower":0.00262,"mid":0.00401,"ma1":0.00367},
{"t":"2018-12-04","upper":0.00513,"lower":0.00211,"mid":0.00357,"ma1":0.00367},
{"t":"2018-12-08","upper":0.00466,"lower":0.0018,"mid":0.00316,"ma1":0.00367},
{"t":"2018-12-12","upper":0.00388,"lower":0.00184,"mid":0.00282,"ma1":0.00364},
{"t":"2018-12-16","upper":0.00367,"lower":0.00163,"mid":0.00258,"ma1":0.0036},
{"t":"2018-12-20","upper":0.00309,"lower":0.00167,"mid":0.00245,"ma1":0.0035},
{"t":"2018-12-24","upper":0.00272,"lower":0.00177,"mid":0.00231,"ma1":0.0033},
{"t":"2018-12-31","upper":0.00245,"lower":0.00173,"mid":0.00211,"ma1":0.00292},
{"t":"2019-01-07","upper":0.00228,"lower":0.00173,"mid":0.00194,"ma1":0.00255,"ma2":0.00252},
{"t":"2019-01-14","upper":0.00224,"lower":0.00163,"mid":0.00187,"ma1":0.00228,"ma2":0.00248},
{"t":"2019-01-21","upper":0.00211,"lower":0.00143,"mid":0.0017,"ma1":0.00204,"ma2":0.00248},
{"t":"2019-01-28","upper":0.00221,"lower":0.00082,"mid":0.0015,"ma1":0.00187,"ma2":0.00245},
{"t":"2019-02-04","upper":0.0018,"lower":0.00078,"mid":0.00126,"ma1":0.00167,"ma2":0.00238},
{"t":"2019-02-11","upper":0.00139,"lower":0.00105,"mid":0.00122,"ma1":0.0015,"ma2":0.00235},
{"t":"2019-02-18","upper":0.00139,"lower":0.00102,"mid":0.00109,"ma1":0.00136,"ma2":0.00231},
{"t":"2019-02-25","upper":0.00139,"lower":0.00075,"mid":0.00095,"ma1":0.00129,"ma2":0.00228},
{"t":"2019-03-04","upper":0.00122,"lower":0.00068,"mid":0.00085,"ma1":0.00122,"ma2":0.00224},
{"t":"2019-03-11","upper":0.00105,"lower":0.00061,"mid":0.00082,"ma1":0.00105,"ma2":0.00221},
{"t":"2019-03-18","upper":0.00102,"lower":0.00058,"mid":0.00082,"ma1":0.00099,"ma2":0.00218},
{"t":"2019-03-25","upper":0.00105,"lower":0.00065,"mid":0.00088,"ma1":0.00095,"ma2":0.00213},
{"t":"2019-04-01","upper":0.00109,"lower":0.00078,"mid":0.00092,"ma1":0.00092,"ma2":0.00207},
{"t":"2019-04-08","upper":0.00116,"lower":0.00075,"mid":0.00095,"ma1":0.00088,"ma2":0.00204},
{"t":"2019-04-15","upper":0.00119,"lower":0.00061,"mid":0.00078,"ma1":0.00088,"ma2":0.00199},
{"t":"2019-04-22","upper":0.00099,"lower":0.00058,"mid":0.00068,"ma1":0.00085,"ma2":0.00196},
{"t":"2019-04-29","upper":0.00085,"lower":0.00051,"mid":0.00061,"ma1":0.00082,"ma2":0.0019},
{"t":"2019-05-06","upper":0.00082,"lower":0.00044,"mid":0.00054,"ma1":0.00075,"ma2":0.00185},
{"t":"2019-05-13","upper":0.00068,"lower":0.0002,"mid":0.00041,"ma1":0.00068,"ma2":0.00179},
{"t":"2019-05-20","upper":0.00058,"lower":0.00014,"mid":0.00034,"ma1":0.00065,"ma2":0.00167},
{"t":"2019-05-27","upper":0.00041,"lower":0.0002,"mid":0.00031,"ma1":0.00058,"ma2":0.0015},
{"t":"2019-06-03","upper":0.00034,"lower":0.00024,"mid":0.00031,"ma1":0.00048,"ma2":0.00134},
{"t":"2019-06-10","upper":0.00034,"lower":0.00024,"mid":0.00031,"ma1":0.00041,"ma2":0.00122},
{"t":"2019-06-20","upper":0.00031,"lower":0.00027,"mid":0.00029,"ma1":0.0003,"ma2":0.00105}
],
"edge":[{"t":"2018-08-04T01:30:00Z"}],
"levels":[{"level":30},{"level":50},{"level":70}]},
"vconcat":[
{"width":1102,"height":56,"data":{"values":[{"brand":"adbank","symbol":"ADB"}]},"layer":[
{"mark":{"type":"arc","theta":-1.31,"theta2":1.31,"radius":16,"radius2":10,"color":"#f0102c"},"encoding":{"x":{"datum":16,"type":"quantitative","scale":{"domain":[0,1102],"nice":false},"axis":null},"y":{"datum":20,"type":"quantitative","scale":{"domain":[56,0],"nice":false},"axis":null}}},
{"mark":{"type":"arc","theta":1.83,"theta2":4.45,"radius":16,"radius2":10,"color":"#f0102c"},"encoding":{"x":{"datum":16,"type":"quantitative"},"y":{"datum":20,"type":"quantitative"}}},
{"mark":{"type":"rect","color":"#f0102c"},"encoding":{"x":{"datum":26,"type":"quantitative"},"x2":{"datum":32},"y":{"datum":24,"type":"quantitative"},"y2":{"datum":36}}},
{"mark":{"type":"text","align":"left","baseline":"alphabetic","font":"Roboto","fontWeight":700,"fontSize":36,"color":"#1f2133"},"encoding":{"text":{"field":"brand"},"x":{"datum":40,"type":"quantitative"},"y":{"datum":31,"type":"quantitative"}}},
{"mark":{"type":"rect","color":"#eff2f5","cornerRadius":4},"encoding":{"x":{"datum":169,"type":"quantitative"},"x2":{"datum":224},"y":{"datum":12,"type":"quantitative"},"y2":{"datum":34}}},
{"mark":{"type":"text","align":"center","baseline":"middle","font":"Roboto","fontWeight":700,"fontSize":18,"color":"#58667e"},"encoding":{"text":{"field":"symbol"},"x":{"datum":196.5,"type":"quantitative"},"y":{"datum":23,"type":"quantitative"}}}
]},
{"width":1102,"height":422,
"encoding":{"x":{"field":"t","type":"temporal","scale":{"type":"utc","padding":0,"domain":["2018-08-04T01:30:00Z","2019-06-20T19:00:00Z"]},"axis":{"tickCount":"month","labels":false,"ticks":false,"domain":false,"grid":true}}},
"layer":[
{"data":{"name":"candles"},"mark":{"type":"bar","width":2.4},"encoding":{"y":{"field":"v","type":"quantitative","scale":{"domain":[0,422],"nice":false},"axis":null},"color":{"condition":{"test":"datum.c>=datum.o","value":"#b9e3d0"},"value":"#fbbcc4"}}},
{"layer":[
{"data":{"name":"edge"},"mark":{"type":"rule","color":"#e6e6e6"}},
{"data":{"name":"bands"},"mark":{"type":"area","color":"#26a69a","opacity":0.1},"encoding":{"y":{"field":"upper","type":"quantitative","scale":{"domain":[-0.00235,0.012025],"nice":false,"zero":false},"axis":{"orient":"right","values":[-0.002,0,0.002,0.004,0.006,0.008,0.01,0.012],"labelExpr":"datum.value==0?'':replace(format(datum.value,'$.4r'),'−','-')","ticks":false,"domain":true,"domainColor":"#e6e6e6","grid":true,"labelPadding":6}},"y2":{"field":"lower"}}},
{"data":{"name":"bands"},"mark":{"type":"line","color":"#b9e4dd","strokeWidth":1},"encoding":{"y":{"field":"mid","type":"quantitative","scale":{"domain":[-0.00235,0.012025],"nice":false,"zero":false}}}},
{"data":{"name":"bands"},"mark":{"type":"line","color":"#26a69a","strokeWidth":1},"encoding":{"y":{"field":"upper","type":"quantitative","scale":{"domain":[-0.00235,0.012025],"nice":false,"zero":false}}}},
{"data":{"name":"bands"},"mark":{"type":"line","color":"#26a69a","strokeWidth":1},"encoding":{"y":{"field":"lower","type":"quantitative","scale":{"domain":[-0.00235,0.012025],"nice":false,"zero":false}}}},
{"data":{"name":"bands"},"mark":{"type":"line","color":"#9575cd","strokeWidth":1},"encoding":{"y":{"field":"ma1","type":"quantitative","scale":{"domain":[-0.00235,0.012025],"nice":false,"zero":false}}}},
{"data":{"name":"bands"},"mark":{"type":"line","color":"#5c6bc0","strokeWidth":1},"encoding":{"y":{"field":"ma2","type":"quantitative","scale":{"domain":[-0.00235,0.012025],"nice":false,"zero":false}}}},
{"data":{"name":"candles"},"mark":{"type":"rule","strokeWidth":1.2},"encoding":{"y":{"field":"l","type":"quantitative","scale":{"domain":[-0.00235,0.012025],"nice":false,"zero":false}},"y2":{"field":"h"},"color":{"condition":{"test":"datum.c>=datum.o","value":"#4fb28b"},"value":"#e25870"}}},
{"data":{"name":"candles"},"mark":{"type":"bar","width":2.6},"encoding":{"y":{"field":"o","type":"quantitative","scale":{"domain":[-0.00235,0.012025],"nice":false,"zero":false}},"y2":{"field":"c"},"color":{"condition":{"test":"datum.c>=datum.o","value":"#4fb28b"},"value":"#e25870"}}},
{"data":{"values":[{"t":"2018-11-03","p":0.01077,"label":"▾"}]},"mark":{"type":"text","align":"center","dx":0,"dy":-10,"fontSize":8,"color":"#000000"},"encoding":{"y":{"field":"p","type":"quantitative","scale":{"domain":[-0.00235,0.012025],"nice":false,"zero":false}},"text":{"field":"label"}}},
{"data":{"values":[{"t":"2018-11-03","p":0.01077,"label":"0.01077"}]},"mark":{"type":"text","align":"left","dx":5,"dy":-11,"fontSize":12,"color":"#000000"},"encoding":{"y":{"field":"p","type":"quantitative","scale":{"domain":[-0.00235,0.012025],"nice":false,"zero":false}},"text":{"field":"label"}}},
{"data":{"values":[{"t":"2019-05-14","p":0.0001815,"label":"▴"}]},"mark":{"type":"text","align":"center","dy":9,"fontSize":8,"color":"#000000"},"encoding":{"y":{"field":"p","type":"quantitative","scale":{"domain":[-0.00235,0.012025],"nice":false,"zero":false}},"text":{"field":"label"}}},
{"data":{"values":[{"t":"2019-05-14","p":0.0001815,"label":"0.0001815"}]},"mark":{"type":"text","align":"left","dx":5,"dy":8,"fontSize":12,"color":"#000000"},"encoding":{"y":{"field":"p","type":"quantitative","scale":{"domain":[-0.00235,0.012025],"nice":false,"zero":false}},"text":{"field":"label"}}},
{"data":{"values":[{"t":"2019-06-21T06:00:00Z","t2":"2019-07-10T14:00:00Z","top":0.00073,"bottom":-0.00007}]},"mark":{"type":"rect","color":"#ff3838","cornerRadius":3},"encoding":{"x2":{"field":"t2"},"y":{"field":"top","type":"quantitative","scale":{"domain":[-0.00235,0.012025],"nice":false,"zero":false}},"y2":{"field":"bottom"}}},
{"data":{"values":[{"t":"2019-06-22T06:00:00Z","p":0.00031,"label":"0.0002961"}]},"mark":{"type":"text","align":"left","fontSize":12,"color":"#ffffff"},"encoding":{"y":{"field":"p","type":"quantitative","scale":{"domain":[-0.00235,0.012025],"nice":false,"zero":false}},"text":{"field":"label"}}}
]}
],"resolve":{"scale":{"y":"independent"}}},
{"width":1102,"height":100,
"encoding":{"x":{"field":"t","type":"temporal","scale":{"type":"utc","padding":0,"domain":["2018-08-04T01:30:00Z","2019-06-20T19:00:00Z"]},"axis":{"tickCount":"month","format":"%b","ticks":false,"domain":true,"domainColor":"#e6e6e6","grid":true,"labelPadding":5}}},
"layer":[
{"data":{"name":"edge"},"mark":{"type":"rule","color":"#e6e6e6"}},
{"data":{"name":"levels"},"mark":{"type":"rule","color":"#cfe8ee","strokeDash":[4,3]},"encoding":{"y":{"field":"level","type":"quantitative","scale":{"domain":[-6.25,118.75],"nice":false,"zero":false},"axis":{"orient":"right","values":[0,100],"ticks":true,"tickColor":"#cccccc","tickSize":5,"domain":true,"domainColor":"#e6e6e6","grid":false,"labelPadding":7}}}},
{"data":{"name":"candles"},"mark":{"type":"line","color":"#9b2a9f","strokeWidth":1},"encoding":{"y":{"field":"r","type":"quantitative","scale":{"domain":[-6.25,118.75],"nice":false,"zero":false}}}},
{"data":{"values":[{"t":"2019-06-21T06:00:00Z","t2":"2019-07-02T18:00:00Z","top":61.25,"bottom":35}]},"mark":{"type":"rect","color":"#8f1094","cornerRadius":3},"encoding":{"x2":{"field":"t2"},"y":{"field":"top","type":"quantitative","scale":{"domain":[-6.25,118.75],"nice":false,"zero":false}},"y2":{"field":"bottom"}}},
{"data":{"values":[{"t":"2019-06-22T06:00:00Z","p":46.37,"label":"46.37"}]},"mark":{"type":"text","align":"left","dy":-1,"fontSize":12,"color":"#ffffff"},"encoding":{"y":{"field":"p","type":"quantitative","scale":{"domain":[-6.25,118.75],"nice":false,"zero":false}},"text":{"field":"label"}}}
]}
]}
